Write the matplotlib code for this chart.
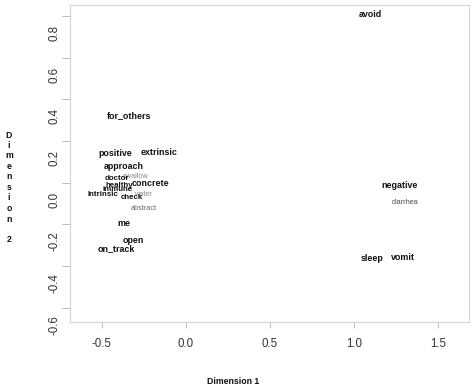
import matplotlib
matplotlib.use("Agg")
import matplotlib.pyplot as plt
import matplotlib.transforms as mtransforms

plt.rcParams['font.family'] = ['Liberation Sans', 'DejaVu Sans']

# ---- data ----
words = ["for_others", "positive", "extrinsic", "approach", "swallow", "doctor",
         "healthy", "concrete", "immune", "Intrinsic", "water", "check",
         "abstract", "me", "open", "on_track", "avoid", "negative", "diarrhea",
         "sleep", "vomit"]
dim1 = [-0.336, -0.421, -0.157, -0.371, -0.296, -0.411,
        -0.395, -0.208, -0.407, -0.494, -0.252, -0.321,
        -0.252, -0.371, -0.312, -0.415, 1.101, 1.270, 1.307,
        1.107, 1.292]
dim2 = [0.320, 0.138, 0.144, 0.077, 0.031, 0.019,
        -0.011, -0.003, -0.032, -0.056, -0.058, -0.070,
        -0.126, -0.198, -0.275, -0.318, 0.808, -0.011, -0.094,
        -0.363, -0.358]
xticks = [-0.5, 0.0, 0.5, 1.0, 1.5]
xtick_labels = ["-0.5", "0.0", "0.5", "1.0", "1.5"]
yticks = [0.8, 0.6, 0.4, 0.2, 0.0, -0.2, -0.4, -0.6]
ytick_labels = ["0.8", "0.6", "0.4", "0.2", "0.0", "-0.2", "-0.4", "-0.6"]

# ---- styles (not data) ----
light_words = {"swallow": "#8a8a8a", "water": "#8a8a8a",
               "abstract": "#6a6a6a", "diarrhea": "#4a4a4a"}
medium_words = {"doctor", "healthy", "immune", "Intrinsic", "check"}

fig = plt.figure(figsize=(4.74, 3.90), dpi=100)
ax = fig.add_axes([70/474, 1-321.7/390, (469.3-70)/474, (321.7-5)/390])
ax.set_xlim(-0.689, 1.688)
ax.set_ylim(-0.667, 0.853)

for w, x, y in zip(words, dim1, dim2):
    if w in light_words:
        ax.text(x, y, w, ha='center', va='center', fontsize=5.3,
                color=light_words[w], fontweight='normal', zorder=2)
    elif w in medium_words:
        ax.text(x, y, w, ha='center', va='center', fontsize=5.7,
                color='#111111', fontweight='bold', zorder=3)
    else:
        ax.text(x, y, w, ha='center', va='center', fontsize=6.4,
                color='#111111', fontweight='bold', zorder=3)

for s in ax.spines.values():
    s.set_color('#d4d4d4')
    s.set_linewidth(0.8)

ax.set_xticks(xticks)
ax.set_xticklabels(xtick_labels)
ax.tick_params(axis='x', length=4.5, width=0.7, color='#bbbbbb', pad=7.5,
               labelsize=8.3, labelcolor='#333333')
ax.set_yticks(yticks)
ax.set_yticklabels([])
ax.tick_params(axis='y', length=5.8, width=0.7, color='#bbbbbb')

# y tick labels (rotated, drawn slightly below their ticks as in the reference)
off = mtransforms.ScaledTranslation(-15/100, -17/100, fig.dpi_scale_trans)
ytrans = mtransforms.blended_transform_factory(ax.transAxes, ax.transData) + off
for v, lab in zip(yticks, ytick_labels):
    ax.text(0, v, lab, transform=ytrans, rotation=90, ha='center', va='center',
            fontsize=8.3, color='#333333', clip_on=False)

fig.text(233/474, 1-381/390, "Dimension 1", ha='center', va='center',
         fontsize=6.3, fontweight='bold', color='#111111')

letters = ["D", "i", "m", "e", "n", "s", "i", "o", "n", "", "2"]
for i, ch in enumerate(letters):
    if ch:
        fig.text(9/474, 1-(135 + 10.5*i)/390, ch, ha='center', va='center',
                 fontsize=6.3, fontweight='bold', color='#111111')

fig.savefig("out.png", dpi=100)
